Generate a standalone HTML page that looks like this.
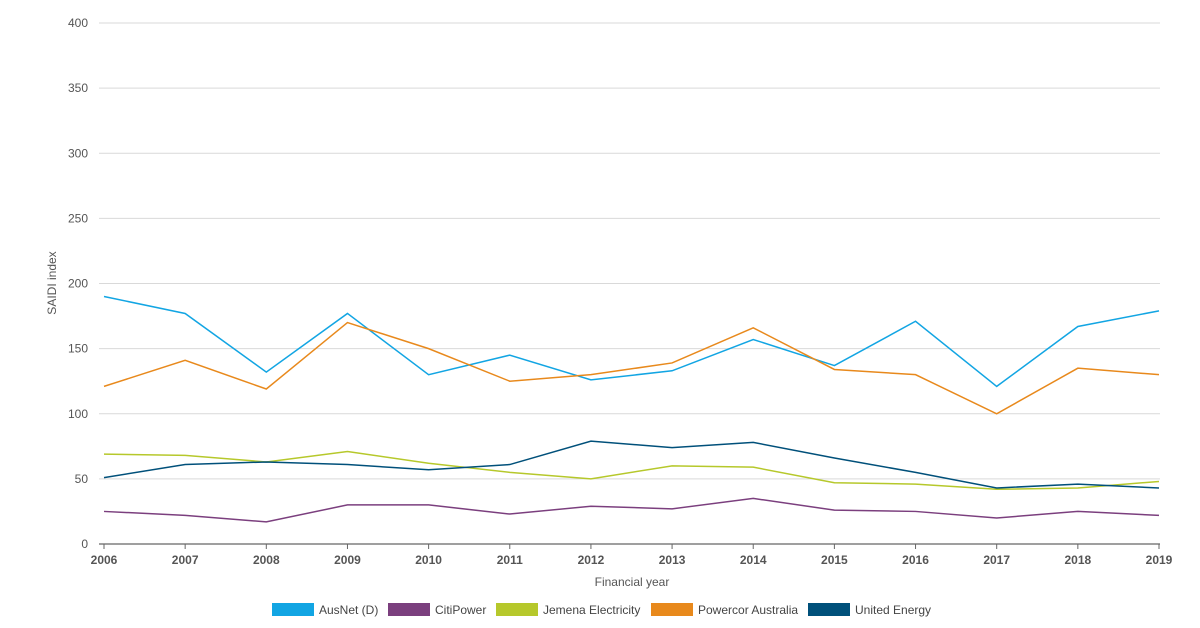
<!DOCTYPE html>
<html><head><meta charset="utf-8"><style>
body{margin:0;background:#fff;}
svg{display:block;font-family:"Liberation Sans",Arial,sans-serif;}
</style></head><body>
<svg id="c" width="1200" height="628" viewBox="0 0 1200 628" xmlns="http://www.w3.org/2000/svg"></svg>
<script>
const s=document.getElementById('c');
const X0=104,X1=1159,Y0=544,Y400=23;
const xs=i=>X0+(X1-X0)*i/13, ys=v=>Y0-(Y0-Y400)*v/400;
let h='';
for(let v=0;v<=400;v+=50){const y=ys(v);
 if(v>0)h+=`<line x1="99" x2="1160" y1="${y}" y2="${y}" stroke="#d9d9d9" stroke-width="1"/>`;
 h+=`<text x="88" y="${y+4}" text-anchor="end" font-size="12" fill="#555">${v}</text>`;}
h+=`<line x1="99" x2="1160" y1="${Y0}" y2="${Y0}" stroke="#666" stroke-width="1.3"/>`;
for(let i=0;i<14;i++){const x=xs(i);
 h+=`<line x1="${x}" x2="${x}" y1="${Y0}" y2="${Y0+5}" stroke="#666"/>`;
 h+=`<text x="${x}" y="564" text-anchor="middle" font-size="12" font-weight="bold" fill="#555">${2006+i}</text>`;}
h+=`<text x="632" y="586" text-anchor="middle" font-size="12" fill="#555">Financial year</text>`;
h+=`<text transform="translate(56,283) rotate(-90)" text-anchor="middle" font-size="12" fill="#555">SAIDI index</text>`;
const S=[
["#12a5e3",[190,177,132,177,130,145,126,133,157,137,171,121,167,179]],
["#e8891c",[121,141,119,170,150,125,130,139,166,134,130,100,135,130]],
["#b6c82b",[69,68,63,71,62,55,50,60,59,47,46,42,43,48]],
["#00507a",[51,61,63,61,57,61,79,74,78,66,55,43,46,43]],
["#7b3f7e",[25,22,17,30,30,23,29,27,35,26,25,20,25,22]]];
for(const [c,d] of S){h+=`<polyline fill="none" stroke="${c}" stroke-width="1.5" points="${d.map((v,i)=>xs(i)+','+ys(v)).join(' ')}"/>`;}
const L=[["#12a5e3","AusNet (D)",272,319],["#7b3f7e","CitiPower",388,435],["#b6c82b","Jemena Electricity",496,543],["#e8891c","Powercor Australia",651,698],["#00507a","United Energy",808,855]];
for(const [c,t,a,b] of L){h+=`<rect x="${a}" y="603" width="42" height="13" fill="${c}"/><text x="${b}" y="614" font-size="12" fill="#444">${t}</text>`;}
s.innerHTML=h;
</script>
</body></html>
